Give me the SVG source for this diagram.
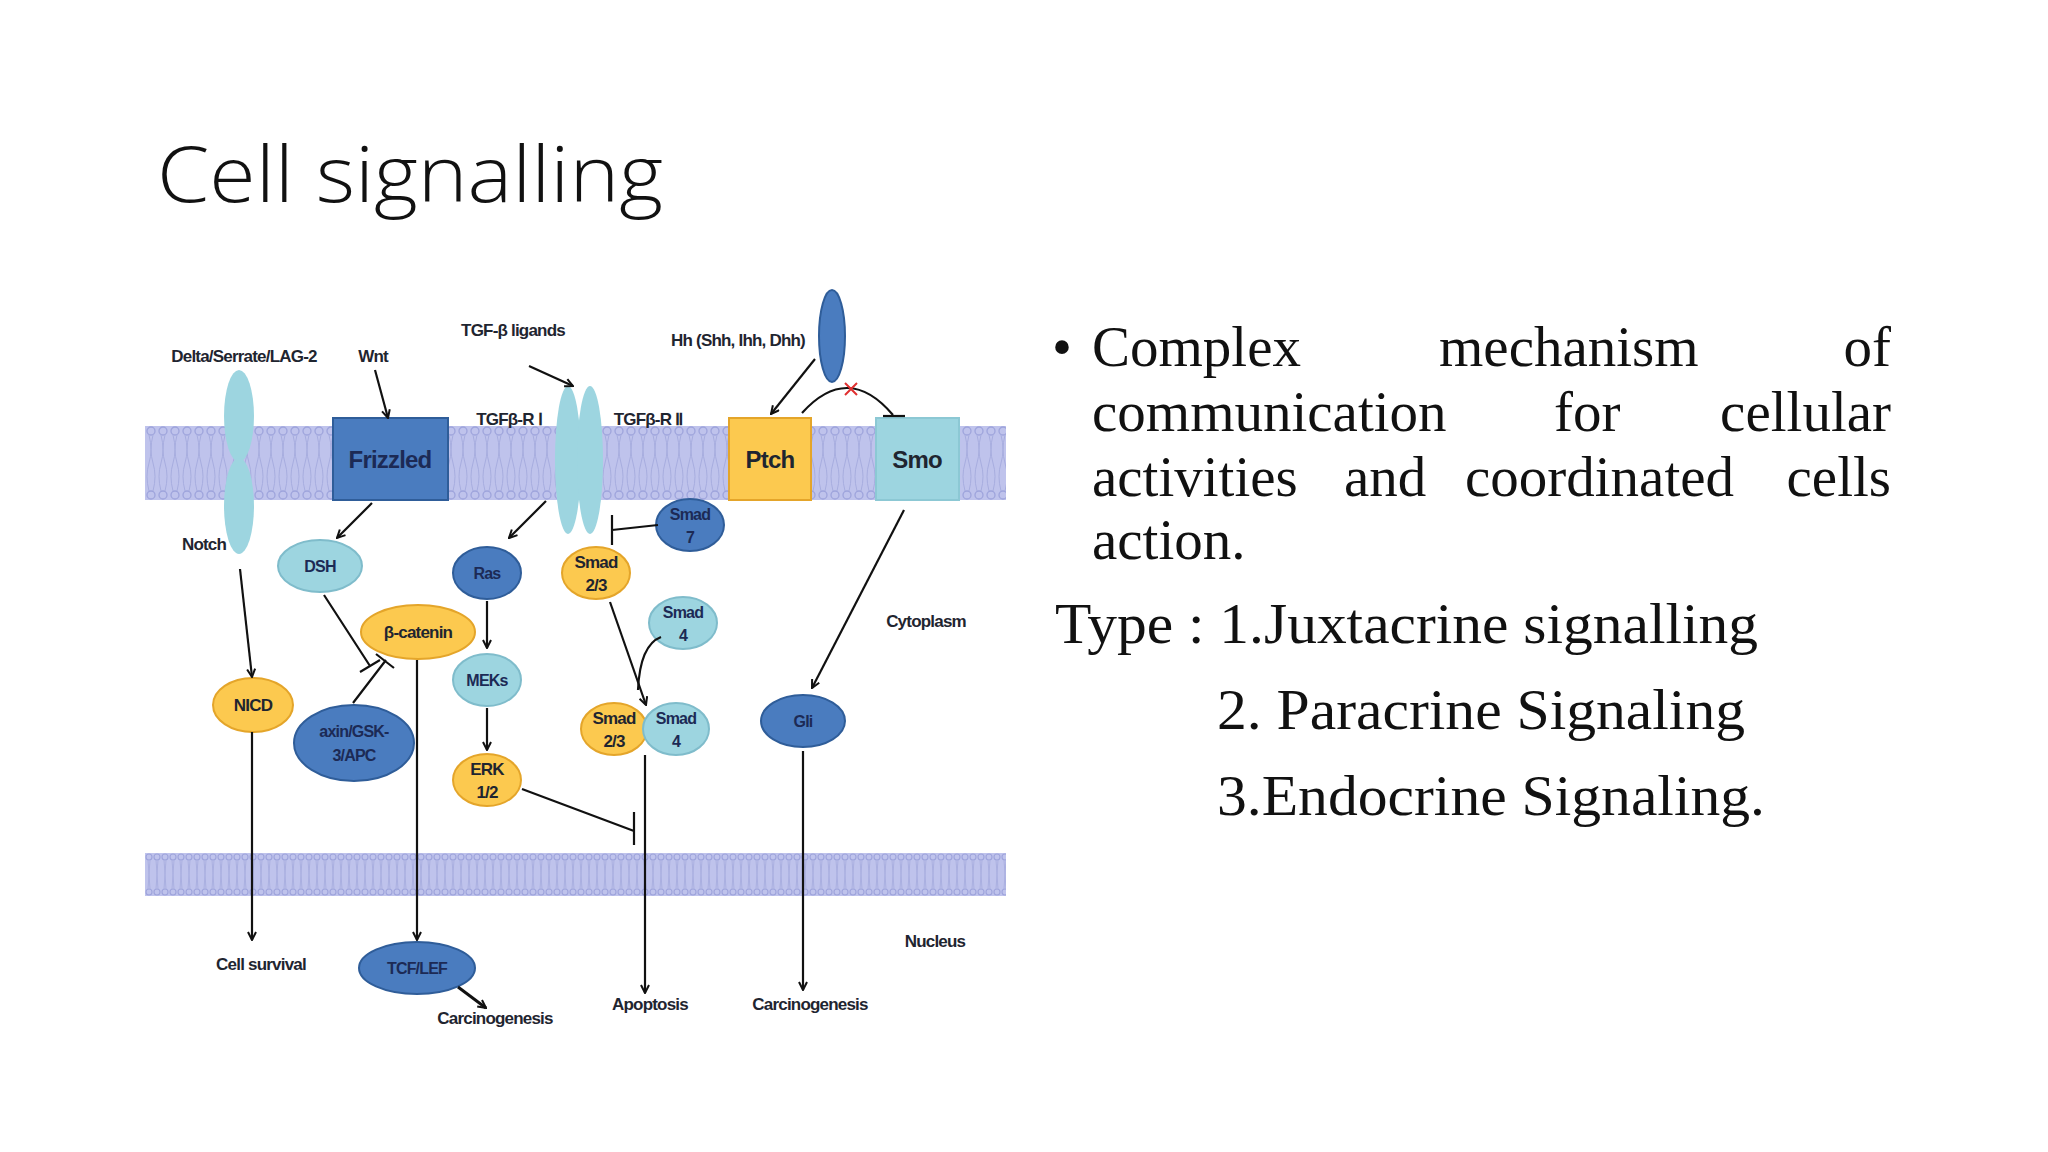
<svg xmlns="http://www.w3.org/2000/svg" width="2048" height="1152" viewBox="0 0 2048 1152">
<defs>
<pattern id="lip" x="145" y="426" width="12" height="74" patternUnits="userSpaceOnUse">
<rect width="12" height="74" fill="#bfc3ec"/>
<circle cx="6" cy="5" r="4" fill="none" stroke="#9ea4dc" stroke-width="1.3"/>
<circle cx="6" cy="69" r="4" fill="none" stroke="#9ea4dc" stroke-width="1.3"/>
<path d="M4 9 Q8 24 4 37 Q0 50 4 65 M8 9 Q4 24 8 37 Q12 50 8 65" fill="none" stroke="#a7addf" stroke-width="1"/>
</pattern>
<pattern id="lip2" x="145" y="853" width="8" height="43" patternUnits="userSpaceOnUse">
<rect width="8" height="43" fill="#bfc3ec"/>
<circle cx="4" cy="4" r="3" fill="none" stroke="#9ea4dc" stroke-width="1.1"/>
<circle cx="4" cy="39" r="3" fill="none" stroke="#9ea4dc" stroke-width="1.1"/>
<path d="M3 7 Q5 21 3 36 M5 7 Q3 21 5 36" fill="none" stroke="#a7addf" stroke-width="0.9"/>
</pattern>
<marker id="ar" markerWidth="10" markerHeight="10" refX="9" refY="5" orient="auto" markerUnits="userSpaceOnUse">
<path d="M1 1 L9 5 L1 9" fill="none" stroke="#111" stroke-width="2"/>
</marker>
</defs>
<style>
.db{fill:#4a7cbf;stroke:#2f5d99;stroke-width:2}
.or{fill:#fcc94f;stroke:#e4a52a;stroke-width:2}
.t{font-family:"Liberation Sans",Arial,sans-serif;font-weight:bold;font-size:17px;fill:#1f2530;text-anchor:middle;letter-spacing:-0.8px}
.tn{font-family:"Liberation Sans",Arial,sans-serif;font-weight:bold;font-size:16px;fill:#1c2a55;text-anchor:middle;letter-spacing:-0.8px}
.big{font-size:24px}
.c{stroke:#111;stroke-width:2.2;fill:none}
.s{font-family:"Liberation Serif","Times New Roman",serif;font-size:57px;fill:#111}
</style>
<rect width="2048" height="1152" fill="#fff"/>
<text x="157" y="202" font-family="Open Sans, Noto Sans, sans-serif" font-weight="300" font-size="78" fill="#111" textLength="506" lengthAdjust="spacingAndGlyphs">Cell signalling</text>

<rect x="145" y="426" width="861" height="74" fill="url(#lip)"/>
<rect x="145" y="853" width="861" height="43" fill="url(#lip2)"/>

<g id="notch"><ellipse cx="239" cy="416" rx="15" ry="46" fill="#9dd5e0"/><ellipse cx="239" cy="506" rx="15" ry="48" fill="#9dd5e0"/></g>
<g id="frizzled"><rect x="333" y="418" width="115" height="82" fill="#4a7cbf" stroke="#2f5d99" stroke-width="2"/><text x="390" y="468" class="tn big">Frizzled</text></g>
<g id="tgfr"><ellipse cx="568" cy="460" rx="13" ry="74" fill="#9dd5e0"/><ellipse cx="590" cy="460" rx="13" ry="74" fill="#9dd5e0"/></g>
<g id="ptch"><rect x="729" y="418" width="82" height="82" class="or"/><text x="770" y="468" class="t big">Ptch</text></g>
<g id="smo"><rect x="876" y="418" width="83" height="82" fill="#9dd5e0" stroke="#8cc8d4" stroke-width="2"/><text x="917" y="468" class="t big">Smo</text></g>
<g id="hh"><ellipse cx="832" cy="336" rx="13" ry="46" class="db"/></g>
<g id="dsh"><ellipse cx="320" cy="566" rx="42" ry="26" fill="#9dd5e0" stroke="#7fbccb" stroke-width="2"/><text x="320" y="572" class="tn">DSH</text></g>
<g id="ras"><ellipse cx="487" cy="573" rx="34" ry="26" class="db"/><text x="487" y="579" class="tn">Ras</text></g>
<g id="smad23a"><ellipse cx="596" cy="573" rx="34" ry="26" class="or"/><text x="596" y="568" class="t">Smad</text><text x="596" y="591" class="t">2/3</text></g>
<g id="smad7"><ellipse cx="690" cy="525" rx="34" ry="26" class="db"/><text x="690" y="520" class="tn">Smad</text><text x="690" y="543" class="tn">7</text></g>
<g id="bcat"><ellipse cx="418" cy="632" rx="57" ry="27" class="or"/><text x="418" y="638" class="t">β-catenin</text></g>
<g id="smad4a"><ellipse cx="683" cy="623" rx="34" ry="26" fill="#9dd5e0" stroke="#7fbccb" stroke-width="2"/><text x="683" y="618" class="tn">Smad</text><text x="683" y="641" class="tn">4</text></g>
<g id="meks"><ellipse cx="487" cy="680" rx="34" ry="26" fill="#9dd5e0" stroke="#7fbccb" stroke-width="2"/><text x="487" y="686" class="tn">MEKs</text></g>
<g id="nicd"><ellipse cx="253" cy="705" rx="40" ry="27" class="or"/><text x="253" y="711" class="t">NICD</text></g>
<g id="axin"><ellipse cx="354" cy="743" rx="60" ry="38" class="db"/><text x="354" y="737" class="tn">axin/GSK-</text><text x="354" y="761" class="tn">3/APC</text></g>
<g id="smad23b"><ellipse cx="614" cy="729" rx="33" ry="26" class="or"/><text x="614" y="724" class="t">Smad</text><text x="614" y="747" class="t">2/3</text></g>
<g id="smad4b"><ellipse cx="676" cy="729" rx="33" ry="26" fill="#9dd5e0" stroke="#7fbccb" stroke-width="2"/><text x="676" y="724" class="tn">Smad</text><text x="676" y="747" class="tn">4</text></g>
<g id="gli"><ellipse cx="803" cy="721" rx="42" ry="26" class="db"/><text x="803" y="727" class="tn">Gli</text></g>
<g id="erk"><ellipse cx="487" cy="780" rx="34" ry="26" class="or"/><text x="487" y="775" class="t">ERK</text><text x="487" y="798" class="t">1/2</text></g>
<g id="tcf"><ellipse cx="417" cy="968" rx="58" ry="26" class="db"/><text x="417" y="974" class="tn">TCF/LEF</text></g>

<g id="labels" class="t">
<text x="244" y="362">Delta/Serrate/LAG-2</text>
<text x="373" y="362">Wnt</text>
<text x="513" y="336">TGF-β ligands</text>
<text x="738" y="346">Hh (Shh, Ihh, Dhh)</text>
<text x="509" y="425">TGFβ-R Ⅰ</text>
<text x="648" y="425">TGFβ-R Ⅱ</text>
<text x="204" y="550">Notch</text>
<text x="926" y="627">Cytoplasm</text>
<text x="935" y="947">Nucleus</text>
<text x="261" y="970">Cell survival</text>
<text x="495" y="1024">Carcinogenesis</text>
<text x="650" y="1010">Apoptosis</text>
<text x="810" y="1010">Carcinogenesis</text>
</g>

<g id="connectors" class="c">
<path d="M375 370 L388 418" marker-end="url(#ar)"/>
<path d="M529 366 L573 386" marker-end="url(#ar)"/>
<path d="M815 359 L771 414" marker-end="url(#ar)"/>
<path d="M802 413 Q848 362 893 415"/><path d="M883 416 H905"/>
<path d="M845 383 L857 395 M857 383 L845 395" stroke="#e03030" stroke-width="2"/>
<path d="M372 503 L337 538" marker-end="url(#ar)"/>
<path d="M240 569 L252 677" marker-end="url(#ar)"/>
<path d="M324 595 L370 666 M360 672 L380 660"/>
<path d="M353 703 L386 660 M376 654 L394 668"/>
<path d="M417 660 V940" marker-end="url(#ar)"/>
<path d="M458 987 L486 1008" marker-end="url(#ar)" stroke-width="3"/>
<path d="M252 732 V940" marker-end="url(#ar)"/>
<path d="M546 501 L509 538" marker-end="url(#ar)"/>
<path d="M487 601 V648" marker-end="url(#ar)"/>
<path d="M487 708 V750" marker-end="url(#ar)"/>
<path d="M522 789 L634 831 M634 812 V845"/>
<path d="M658 525 L612 530 M612 515 V545"/>
<path d="M610 602 L646 705" marker-end="url(#ar)"/>
<path d="M661 637 Q640 645 638 690"/>
<path d="M645 755 V993" marker-end="url(#ar)"/>
<path d="M904 510 L812 688" marker-end="url(#ar)"/>
<path d="M803 751 V990" marker-end="url(#ar)"/>
</g>

<g id="bullets" class="s">
<text x="1052" y="366">•</text>
<text x="1092" y="366">Complex</text><text x="1439" y="366">mechanism</text><text x="1891" y="366" text-anchor="end">of</text>
<text x="1092" y="431">communication</text><text x="1554" y="431">for</text><text x="1891" y="431" text-anchor="end">cellular</text>
<text x="1092" y="496">activities</text><text x="1344" y="496">and</text><text x="1465" y="496">coordinated</text><text x="1891" y="496" text-anchor="end">cells</text>
<text x="1092" y="559">action.</text>
<text x="1055" y="643" textLength="703" lengthAdjust="spacingAndGlyphs">Type : 1.Juxtacrine signalling</text>
<text x="1217" y="729" textLength="528" lengthAdjust="spacingAndGlyphs">2. Paracrine Signaling</text>
<text x="1217" y="815" textLength="548" lengthAdjust="spacingAndGlyphs">3.Endocrine Signaling.</text>
</g>
</svg>
